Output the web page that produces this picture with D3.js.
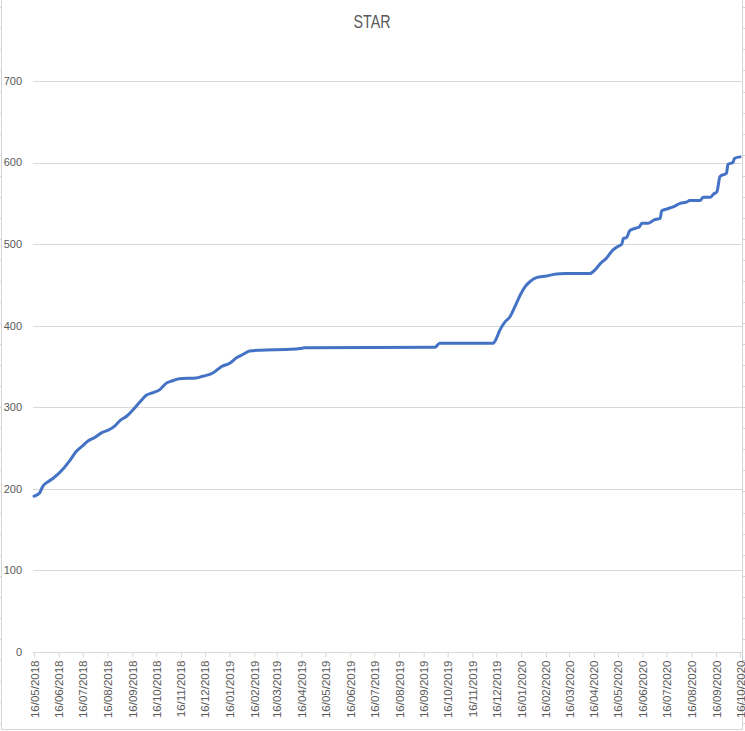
<!DOCTYPE html>
<html>
<head>
<meta charset="utf-8">
<script src="https://cdn.jsdelivr.net/npm/d3@7"></script>
<style>
  body { margin: 0; background: #fff; }
  text { font-family: "Liberation Sans", Arial, sans-serif; fill: #595959; }
</style>
</head>
<body>
<svg id="chart" width="745" height="731"></svg>
<script>
// values (dd/mm/yyyy style dates kept as ISO here)
const dates = [
  "2018-05-16", "2018-05-23", "2018-05-27", "2018-06-03", "2018-06-09", "2018-06-15",
  "2018-06-21", "2018-06-30", "2018-07-08", "2018-07-15", "2018-07-23", "2018-07-31",
  "2018-08-09", "2018-08-17", "2018-08-25", "2018-09-01", "2018-09-09", "2018-09-17",
  "2018-09-26", "2018-10-04", "2018-10-12", "2018-10-21", "2018-10-28", "2018-11-04",
  "2018-11-14", "2018-12-05", "2018-12-13", "2018-12-26", "2019-01-06", "2019-01-16",
  "2019-01-25", "2019-02-02", "2019-02-10", "2019-02-23", "2019-04-01", "2019-04-14",
  "2019-04-20", "2019-09-30", "2019-10-06", "2019-12-12", "2019-12-16", "2019-12-20",
  "2019-12-27", "2020-01-02", "2020-01-08", "2020-01-15", "2020-01-21", "2020-01-27",
  "2020-02-04", "2020-02-17", "2020-02-29", "2020-03-11", "2020-04-11", "2020-04-18",
  "2020-04-24", "2020-05-02", "2020-05-10", "2020-05-16", "2020-05-21", "2020-05-23",
  "2020-05-27", "2020-05-31", "2020-06-07", "2020-06-12", "2020-06-15", "2020-06-23",
  "2020-06-30", "2020-07-08", "2020-07-10", "2020-07-16", "2020-07-25", "2020-08-02",
  "2020-08-10", "2020-08-14", "2020-08-27", "2020-08-31", "2020-09-09", "2020-09-13",
  "2020-09-17", "2020-09-21", "2020-09-29", "2020-10-01", "2020-10-07", "2020-10-09",
  "2020-10-16"
];
const stars = [
  191, 195, 203, 209, 213, 218,
  224, 235, 246, 252, 259, 263,
  269, 272, 277, 284, 289, 297,
  307, 315, 318, 322, 329, 332,
  335, 336, 338, 342, 350, 354,
  361, 365, 369, 370, 371, 372,
  373, 373.5, 378.5, 378.5, 384.5, 394,
  405, 411, 423, 438, 448, 454,
  459, 461, 463.5, 464, 464, 469,
  476, 483, 493, 497, 500, 507,
  508, 516.5, 519.5, 521, 525.5, 525.5,
  529.5, 531.5, 541, 543, 546, 550,
  551.5, 553.5, 553.5, 557.5, 557.5, 561.5,
  564, 583, 587, 598, 600, 605,
  607
];
const yTicks = [0, 100, 200, 300, 400, 500, 600, 700];
const title = "STAR";

const parse = d3.utcParse("%Y-%m-%d");
const fmt = d3.utcFormat("%d/%m/%Y");
const series = dates.map((d, i) => ({ date: parse(d), value: stars[i] }));

const svg = d3.select("#chart");
const start = parse("2018-05-16"), end = parse("2020-10-16");
const x = d3.scaleUtc().domain([start, end]).range([34, 740]);
const y = d3.scaleLinear().domain([0, 700]).range([652, 81]);
const xTicks = d3.range(0, 30).map((i) => d3.utcMonth.offset(start, i));

// spreadsheet frame around the chart object
const frame = svg.append("g").style("stroke", "#d4d4d4").style("fill", "none");
frame.append("path").attr("d", "M1.5,0 V729.5 H742.5 V0");
d3.range(0, 35).forEach((i) => {
  let ry = Math.round(7.3 + i * 21.05) + 0.5;
  frame.append("line").attr("x1", 0).attr("x2", 1.5).attr("y1", ry).attr("y2", ry);
  frame.append("line").attr("x1", 742.5).attr("x2", 745).attr("y1", ry).attr("y2", ry);
});

// gridlines
svg.append("g")
  .selectAll("line")
  .data(yTicks.slice(1))
  .enter()
  .append("line")
  .attr("x1", 33)
  .attr("x2", 742)
  .attr("y1", (d) => Math.round(y(d)) + 0.5)
  .attr("y2", (d) => Math.round(y(d)) + 0.5)
  .style("stroke", "#d9d9d9")
  .style("stroke-width", 1);

// y labels
svg.append("g")
  .selectAll("text")
  .data(yTicks)
  .enter()
  .append("text")
  .attr("x", 22)
  .attr("y", (d) => y(d))
  .attr("dy", "0.35em")
  .attr("text-anchor", "end")
  .style("font-size", "11px")
  .text((d) => d);

// x axis
const xAxis = svg.append("g")
  .attr("transform", "translate(0," + (Math.round(y(0)) + 0.5) + ")")
  .call(d3.axisBottom(x).tickValues(xTicks).tickFormat(fmt).tickSize(5).tickSizeOuter(0));
xAxis.select(".domain").attr("d", "M33,0H742").style("stroke", "#d9d9d9");
xAxis.selectAll(".tick line").style("stroke", "#d9d9d9");
xAxis.selectAll(".tick text")
  .attr("transform", "rotate(-90)")
  .attr("x", -8)
  .attr("y", 0)
  .attr("dy", "0.35em")
  .attr("text-anchor", "end")
  .style("font-family", "'Liberation Sans', Arial, sans-serif")
  .style("font-size", "11.5px")
  .style("fill", "#595959");

// line
const line = d3.line()
  .x((d) => x(d.date))
  .y((d) => y(d.value))
  .curve(d3.curveMonotoneX);
svg.append("path")
  .datum(series)
  .attr("d", line)
  .style("fill", "none")
  .style("stroke", "#4472C4")
  .style("stroke-width", 3)
  .style("stroke-linejoin", "round")
  .style("stroke-linecap", "round");

// title (narrow, like Calibri)
svg.append("text")
  .attr("x", 372)
  .attr("y", 28)
  .attr("text-anchor", "middle")
  .attr("textLength", 37)
  .attr("lengthAdjust", "spacingAndGlyphs")
  .style("font-size", "17.5px")
  .text(title);
</script>
</body>
</html>
